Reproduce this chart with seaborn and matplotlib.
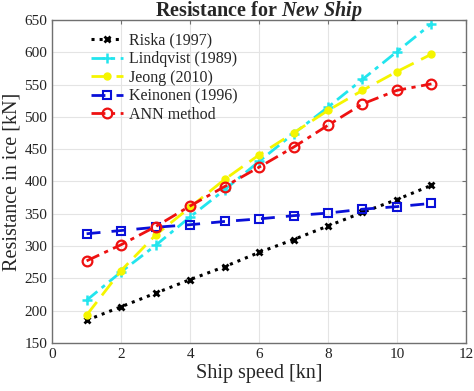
import matplotlib
matplotlib.use("Agg")
import matplotlib.pyplot as plt
import seaborn as sns
import pandas as pd

speed = [1, 2, 3, 4, 5, 6, 7, 8, 9, 10, 11]
riska = [185, 206, 227, 248, 268, 290, 310, 331, 352, 372, 394]
lindqvist = [216, 260, 301, 345, 387, 431, 474, 515, 558, 601, 644]
jeong = [193, 262, 317, 360, 403, 441, 475, 510, 541, 570, 597]
keinonen = [319, 324, 329, 333, 338, 342, 347, 351, 357, 361, 366]
ann = [277, 302, 330, 362, 392, 422, 453, 487, 520, 541, 551]

names = ["Riska (1997)", "Lindqvist (1989)", "Jeong (2010)", "Keinonen (1996)", "ANN method"]
series = [riska, lindqvist, jeong, keinonen, ann]

sns.set_style("whitegrid")
plt.rcParams['font.family'] = ['Liberation Serif', 'DejaVu Serif']
plt.rcParams['mathtext.fontset'] = 'custom'
plt.rcParams['mathtext.bfit'] = 'Liberation Serif:italic:bold'
plt.rcParams['mathtext.it'] = 'Liberation Serif:italic'

df = pd.DataFrame({"speed": speed * len(names),
                   "res": sum(series, []),
                   "method": [n for n in names for _ in speed]})

styles = {
    "Riska (1997)": dict(color="black", linestyle=":", marker="x", mfc="black", lw=2.2, ms=4.5, mew=2),
    "Lindqvist (1989)": dict(color="#22e5ee", linestyle=(0, (5, 2, 1.5, 2)), marker="+", lw=2, ms=6.5, mew=1.8),
    "Jeong (2010)": dict(color="#f5f500", linestyle=(0, (6, 3)), marker="o", mfc="#f5f500", lw=2, ms=5),
    "Keinonen (1996)": dict(color="#0a10d8", linestyle=(0, (5, 4)), marker="s", mfc="none", lw=2, ms=6, mew=1.5),
    "ANN method": dict(color="#ee1111", linestyle=(0, (5, 2, 1.5, 2)), marker="o", mfc="none", lw=2, ms=7, mew=1.6),
}

fig = plt.figure(figsize=(4.74, 3.91), dpi=100)
ax = fig.add_axes([0.110, 0.123, 0.873, 0.826])
for n in names:
    st = styles[n]
    sns.lineplot(data=df[df.method == n], x="speed", y="res", ax=ax, label=n,
                 color=st["color"], linestyle=st["linestyle"], marker=st["marker"],
                 linewidth=st["lw"], markersize=st["ms"],
                 markeredgewidth=st.get("mew", 1))

# marker faces / edges
for line, n in zip(ax.get_lines(), names):
    mfc = styles[n].get("mfc")
    if mfc is not None:
        line.set_markerfacecolor(mfc)
    line.set_markeredgecolor(styles[n]["color"])

ax.set_xlim(0, 12)
ax.set_ylim(150, 650)
ax.set_xticks(range(0, 13, 2))
ax.set_yticks(range(150, 651, 50))
ax.grid(True, color="#e4e4e4", linewidth=0.8)
for s in ax.spines.values():
    s.set_color("#707070")
    s.set_linewidth(1)
ax.tick_params(direction="in", length=3, labelsize=11, color="#707070", top=True, right=True,
               labelcolor="#222222")
ax.set_xlabel("Ship speed [kn]", fontsize=14.5, labelpad=2)
ax.set_ylabel("Resistance in ice [kN]", fontsize=14.5, labelpad=2)
ax.set_title(r"Resistance for $\mathbfit{New\ Ship}$", fontsize=14.5, fontweight="bold", pad=3)

handles, labels = ax.get_legend_handles_labels()
for h, n in zip(handles, names):
    mfc = styles[n].get("mfc")
    if mfc is not None:
        h.set_markerfacecolor(mfc)
    h.set_markeredgecolor(styles[n]["color"])
leg = ax.legend(handles, labels, loc="upper left", frameon=False, fontsize=11.5,
                handlelength=2.0, handletextpad=0.35, labelspacing=0.16,
                bbox_to_anchor=(0.06, 1.005))

fig.savefig("out.png", dpi=100)
